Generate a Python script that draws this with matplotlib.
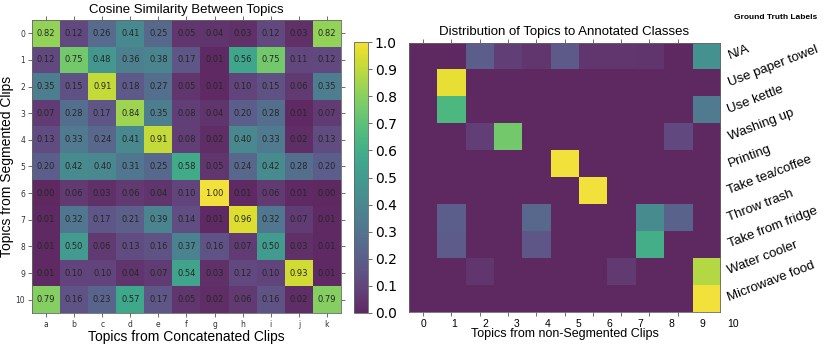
import numpy as np
import matplotlib
matplotlib.use('Agg')
import matplotlib.pyplot as plt
from matplotlib.colors import ListedColormap

# cosine similarity between topics (rows: segmented, cols: concatenated)
concat_labels = ['a', 'b', 'c', 'd', 'e', 'f', 'g', 'h', 'i', 'j', 'k']
segmented_labels = [str(i) for i in range(11)]
similarity = [
    [0.82, 0.12, 0.26, 0.41, 0.25, 0.05, 0.04, 0.03, 0.12, 0.03, 0.82],
    [0.12, 0.75, 0.48, 0.36, 0.38, 0.17, 0.01, 0.56, 0.75, 0.11, 0.12],
    [0.35, 0.15, 0.91, 0.18, 0.27, 0.05, 0.01, 0.10, 0.15, 0.06, 0.35],
    [0.07, 0.28, 0.17, 0.84, 0.35, 0.08, 0.04, 0.20, 0.28, 0.01, 0.07],
    [0.13, 0.33, 0.24, 0.41, 0.91, 0.08, 0.02, 0.40, 0.33, 0.02, 0.13],
    [0.20, 0.42, 0.40, 0.31, 0.25, 0.58, 0.05, 0.24, 0.42, 0.28, 0.20],
    [0.00, 0.06, 0.03, 0.06, 0.04, 0.10, 1.00, 0.01, 0.06, 0.01, 0.00],
    [0.01, 0.32, 0.17, 0.21, 0.39, 0.14, 0.01, 0.96, 0.32, 0.07, 0.01],
    [0.01, 0.50, 0.06, 0.13, 0.16, 0.37, 0.16, 0.07, 0.50, 0.03, 0.01],
    [0.01, 0.10, 0.10, 0.04, 0.07, 0.54, 0.03, 0.12, 0.10, 0.93, 0.01],
    [0.79, 0.16, 0.23, 0.57, 0.17, 0.05, 0.02, 0.06, 0.16, 0.02, 0.79],
]

# distribution of non-segmented topics over annotated classes
class_labels = ['N/A', 'Use paper towel', 'Use kettle', 'Washing up', 'Printing',
                'Take tea/coffee', 'Throw trash', 'Take from fridge', 'Water cooler',
                'Microwave food']
topic_ticks = [str(i) for i in range(11)]
distribution = [
    [0.00, 0.00, 0.20, 0.08, 0.05, 0.18, 0.05, 0.05, 0.04, 0.00, 0.45],
    [0.00, 0.98, 0.00, 0.00, 0.00, 0.00, 0.00, 0.00, 0.00, 0.00, 0.00],
    [0.00, 0.65, 0.00, 0.00, 0.00, 0.00, 0.00, 0.00, 0.00, 0.00, 0.33],
    [0.00, 0.00, 0.08, 0.75, 0.00, 0.00, 0.00, 0.00, 0.00, 0.12, 0.00],
    [0.00, 0.00, 0.00, 0.00, 0.00, 1.00, 0.00, 0.00, 0.00, 0.00, 0.00],
    [0.00, 0.00, 0.00, 0.00, 0.00, 0.00, 1.00, 0.00, 0.00, 0.00, 0.00],
    [0.00, 0.20, 0.00, 0.00, 0.24, 0.00, 0.00, 0.00, 0.42, 0.22, 0.00],
    [0.00, 0.19, 0.00, 0.00, 0.17, 0.00, 0.00, 0.00, 0.60, 0.00, 0.00],
    [0.00, 0.00, 0.05, 0.00, 0.00, 0.00, 0.00, 0.06, 0.00, 0.00, 0.88],
    [0.00, 0.00, 0.00, 0.00, 0.00, 0.00, 0.00, 0.00, 0.00, 0.00, 1.00],
]

label_font = 'Liberation Sans'

# viridis, washed out a little like the printed figure
base = plt.get_cmap('viridis')(np.linspace(0, 1, 256))[:, :3]
muted = 0.8 * base + 0.2 * np.array([200, 200, 150]) / 255
cmap = ListedColormap(muted)

fig = plt.figure(figsize=(8.25, 3.46), dpi=100)

# ---- left: cosine similarity ----
ax1 = fig.add_axes([0.0388, 0.0954, 0.3745, 0.8468])
sim = np.array(similarity)
im = ax1.imshow(sim, cmap=cmap, vmin=0, vmax=1, aspect='auto')
for i in range(sim.shape[0]):
    for j in range(sim.shape[1]):
        ax1.text(j, i, f"{sim[i, j]:.2f}", ha='center', va='center',
                 fontsize=6, color='#262626')

ax1.set_xticks(range(len(concat_labels)))
ax1.set_xticklabels(concat_labels, fontsize=5.5, color='#333333')
ax1.set_yticks(range(len(segmented_labels)))
ax1.set_yticklabels(segmented_labels, fontsize=5.5, color='#333333')
ax1.tick_params(top=True, right=True, direction='out', length=3, width=0.6,
                color='#555555', pad=2)
for sp in ax1.spines.values():
    sp.set_color('#666666')
    sp.set_linewidth(0.6)
ax1.set_title("Cosine Similarity Between Topics", fontsize=9.5, family=label_font, pad=5)
ax1.set_xlabel("Topics from Concatenated Clips", fontsize=10, family=label_font, labelpad=1)
ax1.set_ylabel("Topics from Segmented Clips", fontsize=10, family=label_font, labelpad=1)

# ---- colorbar ----
cax = fig.add_axes([0.429, 0.0954, 0.017, 0.783])
cb = fig.colorbar(im, cax=cax, ticks=np.arange(0, 1.01, 0.1))
cb.ax.set_yticklabels([f"{t:.1f}" for t in np.arange(0, 1.01, 0.1)], fontsize=10)
cb.ax.tick_params(length=3, width=0.6, color='#555555', pad=2)
cb.outline.set_linewidth(0.6)
cb.outline.set_edgecolor('#666666')

# ---- right: distribution ----
ax2 = fig.add_axes([0.4958, 0.0983, 0.377, 0.7775])
dist = np.array(distribution)
ax2.imshow(dist, cmap=cmap, vmin=0, vmax=1, aspect='auto')

# tick marks at column centres 0..9, top and bottom
ax2.set_xticks(range(10))
ax2.set_xticklabels([])
ax2.tick_params(axis='x', top=True, bottom=True, direction='out', length=3,
                width=0.6, color='#555555')
# labels are spread a bit wider than the marks
for i, lab in enumerate(topic_ticks):
    ax2.text(i * 1.096, -0.025, lab, transform=ax2.get_xaxis_transform(),
             ha='center', va='top', fontsize=7.5, family=label_font, clip_on=False)

# class names on the right, rotated; marks on every other row
ax2.yaxis.tick_right()
ax2.set_yticks(range(len(class_labels)))
ax2.set_yticklabels(class_labels, rotation=21, rotation_mode='anchor',
                    ha='left', va='center', fontsize=9.5, family=label_font)
ax2.tick_params(axis='y', which='major', length=0, pad=6, left=False)
ax2.set_yticks(range(0, 10, 2), minor=True)
ax2.tick_params(axis='y', which='minor', left=True, right=True, direction='out',
                length=3, width=0.6, color='#555555')
for sp in ax2.spines.values():
    sp.set_color('#666666')
    sp.set_linewidth(0.6)
ax2.set_title("Distribution of Topics to Annotated Classes", fontsize=9.5,
              family=label_font, pad=6)
ax2.set_xlabel("Topics from non-Segmented Clips", fontsize=9, family=label_font, labelpad=5)
fig.text(0.94, 0.948, "Ground Truth Labels", fontsize=6, fontweight='bold',
         family=label_font, ha='center', va='center')

fig.savefig('out.png', dpi=100)
